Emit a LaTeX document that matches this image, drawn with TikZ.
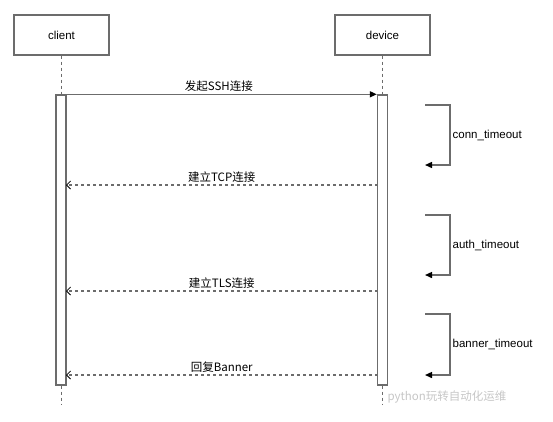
\documentclass[tikz,border=0pt]{standalone}
\usepackage{fontspec}
\setmainfont{Liberation Sans}
\newfontfamily\cjk{Noto Sans CJK SC}
\usetikzlibrary{arrows.meta}

\tikzset{
  actor/.style={draw=gray!85!black, line width=1.4pt, minimum width=95pt, minimum height=40pt, font=\fontsize{11.5}{13}\selectfont},
  bar/.style={draw=gray!85!black, fill=white, line width=1.4pt, minimum width=10pt, minimum height=290pt, inner sep=0pt},
  life/.style={draw=gray!85!black, line width=1.4pt, dash pattern=on 3pt off 3pt},
  call/.style={draw=gray!85!black, line width=1.4pt, -{Triangle[length=7pt,width=6pt,black]}},
  reply/.style={draw=gray!85!black, line width=1.3pt, dash pattern=on 3pt off 3pt, -{Straight Barb[length=4pt,width=8pt,black,line width=0.8pt]}},
  lbl/.style={font=\fontsize{11.5}{13}\selectfont, inner sep=2pt}
}

\begin{document}
\begin{tikzpicture} [x=1pt, y=-1pt]
  \useasboundingbox (0,0) rectangle (553,421);
  \path  (61.5, 35)   node[actor](client)  {client}
          (382.5, 35)  node[actor](device) {device}
          (61, 240)    coordinate(cbarpos)
          (382.5, 240) coordinate(dbarpos)
          (61.5, 405)  coordinate(cend)
          (382.5, 405) coordinate(dend);
  % lifelines
  \draw [life] (client) -- (cend);
  \draw [life] (device) -- (dend);
  \node[bar] (cbar) at (cbarpos) {};
  \node[bar] (dbar) at (dbarpos) {};
  % messages
  \path (377.5, 185) coordinate(tcp0)  (66, 185) coordinate(tcp1)
        (377.5, 291) coordinate(tls0)  (66, 291) coordinate(tls1)
        (377.5, 375) coordinate(ban0)  (66, 375) coordinate(ban1);
  \draw [call] (cbar.north) to node [pos=0.5,above,lbl]{\cjk 发起SSH连接} (dbar.north west);
  \draw [reply] (tcp0) to node [pos=0.5,above,lbl]{\cjk 建立TCP连接} (tcp1);
  \draw [reply] (tls0) to node [pos=0.5,above,lbl]{\cjk 建立TLS连接} (tls1);
  \draw [reply] (ban0) to node [pos=0.5,above,lbl]{\cjk 回复Banner} (ban1);
  % timeouts
  \path (425, 105) coordinate(ct0)  (425, 165) coordinate(ct1)
        (425, 215) coordinate(at0)  (425, 275) coordinate(at1)
        (425, 314) coordinate(bt0)  (425, 375) coordinate(bt1);
  \draw [call] (ct0) -- ++(25,0) |- node [pos=0.25,right,lbl]{conn\_timeout} (ct1);
  \draw [call] (at0) -- ++(25,0) |- node [pos=0.25,right,lbl]{auth\_timeout} (at1);
  \draw [call] (bt0) -- ++(25,0) |- node [pos=0.25,right,lbl]{banner\_timeout} (bt1);
  \node [text=gray!45, font=\cjk\fontsize{11.5}{13}\selectfont] (mark) at (447, 397) {python玩转自动化运维};
\end{tikzpicture}
\end{document}
